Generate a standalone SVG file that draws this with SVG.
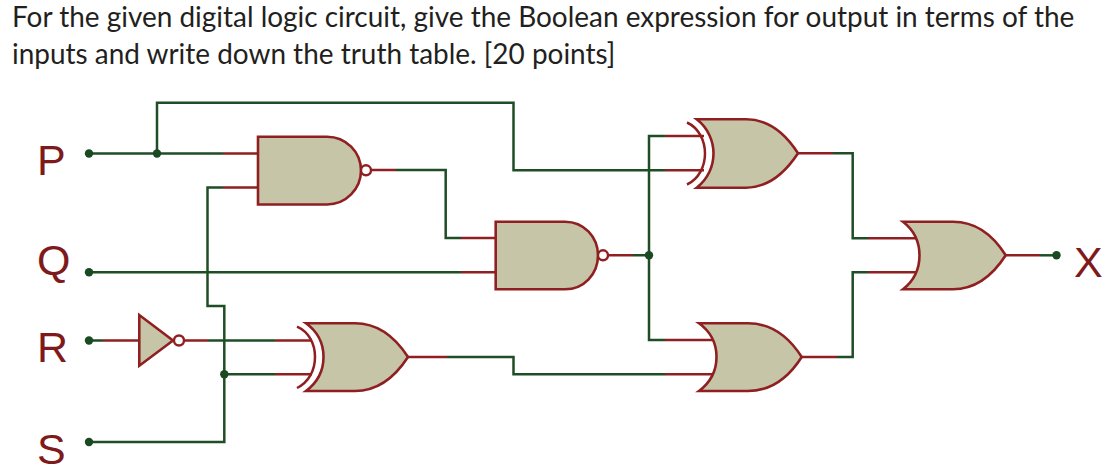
<svg xmlns="http://www.w3.org/2000/svg" width="1112" height="472" viewBox="0 0 1112 472">
<style>
.h{font-family:Lato,"Open Sans",sans-serif;font-size:27.950px;fill:#231f20}
.l{font-family:"Liberation Sans",Arial,sans-serif;font-size:43px;fill:#7f1a1c}
.g{fill:none;stroke:#1f4d26;stroke-width:2.5}
.r{fill:none;stroke:#8f1f20;stroke-width:2.5}
.b{fill:#c6c5a8;stroke:#8f1f20;stroke-width:2.6}
.o{fill:#fff;stroke:#8f1f20;stroke-width:2.4}
.d{fill:#1a4a22}
</style>
<rect width="1112" height="472" fill="#fff"/>
<text class="h" x="12" y="26.500">For the given digital logic circuit, give the Boolean expression for output in terms of the</text>
<text class="h" x="12" y="63.500">inputs and write down the truth table. [20 points]</text>
<text class="l" x="37" y="175">P</text>
<text class="l" x="37" y="275">Q</text>
<text class="l" x="37" y="362">R</text>
<text class="l" x="37" y="464">S</text>
<text class="l" x="1074" y="277">X</text>
<g id="connectors">
<path class="g" d="M89 153.500H223M157 153.500V102.700H513.500V170.300H665"/>
<path class="g" d="M223 187.500H207.500V306H224.300V442H89"/>
<path class="g" d="M89 272.300H461"/>
<path class="g" d="M396 170H445.700V238H461"/>
<path class="g" d="M89 340.500H103M208 340.500H275M224.300 374.300H275"/>
<path class="g" d="M633 255.300H649M665 136H649V340H665"/>
<path class="g" d="M833 153.300H852.700V238.300H868M837 357H852.700V272.300H868"/>
<path class="g" d="M447 357H513.500V374.300H665"/>
<path class="g" d="M1040 255.300H1056"/>
<path class="r" d="M223 153.500H258M223 187.500H258M371 170H396M461 238H496M461 272.300H496M608 255.300H633"/>
<path class="r" d="M103 340.500H139M185 340.500H208M275 340.500H312M275 374.300H312M408 357H447"/>
<path class="r" d="M665 136H704M665 170.300H704M798 153.300H833M665 340H716M665 374.300H716M802 357H837M868 238.300H918M868 272.300H918M1006 255.300H1040"/>
<circle class="d" cx="89" cy="153.500" r="4.200"/>
<circle class="d" cx="157" cy="153.500" r="4.200"/>
<circle class="d" cx="89" cy="272.300" r="4.200"/>
<circle class="d" cx="89" cy="340.500" r="4.200"/>
<circle class="d" cx="89" cy="442" r="4.200"/>
<circle class="d" cx="224.300" cy="374.300" r="4.200"/>
<circle class="d" cx="649" cy="255.300" r="4.200"/>
<circle class="d" cx="1056.500" cy="255.300" r="4.200"/>
</g>
<g id="nand1">
<path class="b" d="M258 136.700H327C346 136.700 361 152 361 170.600C361 189 346 204.500 327 204.500H258Z"/>
<circle class="o" cx="366" cy="170.300" r="5"/>
</g>
<g id="nand2">
<path class="b" d="M495.700 221.700H565C584 221.700 598 237 598 255.300C598 274 584 289.300 565 289.300H495.700Z"/>
<circle class="o" cx="603" cy="255.300" r="5"/>
</g>
<g id="not1">
<path class="b" d="M139.300 315V365.700L173 340.500Z"/>
<circle class="o" cx="179" cy="340.500" r="5"/>
</g>
<g id="xor1">
<path class="b" d="M306 323.300H355C378 323.300 395 337 408 357C395 377 378 391 355 391H306C318 382 323.500 370 323.500 357C323.500 344 318 332 306 323.300Z"/>
<path class="r" d="M297 326.700C309 332 315 344 315 357C315 370 309 382 297 388"/>
</g>
<g id="xor2">
<path class="b" d="M696.700 119.300H746C769 119.300 785 133 798 153.300C785 173 769 187.700 746 187.700H696.700C708 179 713.500 166 713.500 153.500C713.500 141 708 128 696.700 119.300Z"/>
<path class="r" d="M687 122.500C699 128 705 141 705 153.500C705 166 699 179 687 184.500"/>
</g>
<g id="or1">
<path class="b" d="M699 323.300H748C771 323.300 789 337 801.700 357C789 377 771 391 748 391H699C711 382 716.500 370 716.500 357C716.500 344 711 332 699 323.300Z"/>
</g>
<g id="or2">
<path class="b" d="M903 221.700H953C976 221.700 993 235 1005.700 255.300C993 275 976 289.300 953 289.300H903C915 280 919.500 268 919.500 255.300C919.500 243 915 231 903 221.700Z"/>
</g>
</svg>
